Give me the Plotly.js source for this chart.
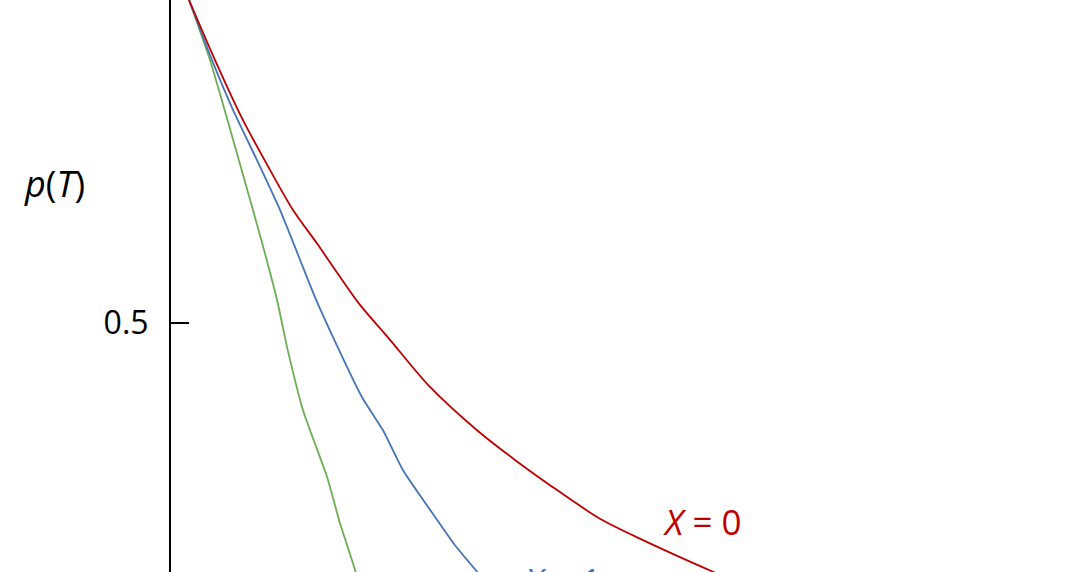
<!DOCTYPE html>
<html>
<head>
<meta charset="utf-8">
<script src="https://cdn.plot.ly/plotly-3.0.1.min.js"></script>
<style>html,body{margin:0;padding:0;background:#fff;}#chart{width:1090px;height:572px;}</style>
</head>
<body>
<div id="chart"></div>
<script>
// T values and p(T) for each X series
var tRed   = [0.18, 0.44, 0.72, 0.99, 1.22, 1.47, 1.71, 1.89, 2.19, 2.59, 3.06, 3.44, 3.79, 4.29, 4.72, 5.42, 6.09];
var pRed   = [1.0, 0.907, 0.814, 0.737, 0.675, 0.621, 0.567, 0.528, 0.474, 0.401, 0.334, 0.288, 0.249, 0.197, 0.164, 0.115, 0.071];
var tBlue  = [0.18, 0.41, 0.62, 0.86, 1.09, 1.29, 1.44, 1.62, 1.91, 2.12, 2.32, 2.59, 2.84, 3.06, 3.29];
var pBlue  = [1.0, 0.907, 0.830, 0.752, 0.675, 0.598, 0.540, 0.478, 0.385, 0.334, 0.272, 0.211, 0.156, 0.115, 0.071];
var tGreen = [0.18, 0.39, 0.56, 0.73, 0.89, 1.06, 1.16, 1.32, 1.56, 1.69, 1.84, 1.89];
var pGreen = [1.0, 0.907, 0.817, 0.724, 0.636, 0.536, 0.463, 0.365, 0.262, 0.190, 0.118, 0.087];
var seriesLabels = ['<i>X</i> = 0', '<i>X</i> = 1'];
var yTickVals = [0.5];
var yTickText = ['0.5'];

var traces = [
  {x: tGreen, y: pGreen, mode: 'lines', line: {color: '#6BAE55', width: 1.8, shape: 'spline', smoothing: 0.5}, hoverinfo: 'skip'},
  {x: tBlue,  y: pBlue,  mode: 'lines', line: {color: '#4674B8', width: 1.8, shape: 'spline', smoothing: 0.5}, hoverinfo: 'skip'},
  {x: tRed,   y: pRed,   mode: 'lines', line: {color: '#C00000', width: 1.8, shape: 'spline', smoothing: 0.8}, hoverinfo: 'skip'}
];

var layout = {
  width: 1090, height: 572,
  margin: {l: 171, r: 0, t: 0, b: 0},
  paper_bgcolor: '#fff', plot_bgcolor: '#fff',
  showlegend: false,
  font: {family: 'Open Sans, sans-serif', color: '#000'},
  xaxis: {range: [0, 9.19], visible: false, fixedrange: true},
  yaxis: {
    range: [0.1146, 1.0], showgrid: false, zeroline: false,
    showline: true, linecolor: '#000', linewidth: 2,
    ticks: 'inside', ticklen: 18, tickwidth: 1.5, tickcolor: '#000',
    tickvals: yTickVals, ticktext: yTickText, ticklabelstandoff: 14,
    tickfont: {size: 32, family: 'Open Sans, sans-serif', color: '#000'},
    fixedrange: true
  },
  annotations: [
    {xref: 'paper', yref: 'paper', x: (22 - 171) / 919, y: 1 - 183 / 572, xanchor: 'left', yanchor: 'middle',
     text: '<i>p</i>(<i>T</i>)', showarrow: false, font: {size: 36, color: '#000'}},
    {xref: 'x', yref: 'y', x: 4.90, y: 0.5 + (323 - 521) / 646, xanchor: 'left', yanchor: 'middle',
     text: seriesLabels[0], showarrow: false, font: {size: 35, color: '#C00000'}},
    {xref: 'x', yref: 'y', x: 3.50, y: 0.5 + (323 - 555) / 646, xanchor: 'left', yanchor: 'top',
     text: seriesLabels[1], showarrow: false, font: {size: 35, color: '#4674B8'}}
  ]
};

Plotly.newPlot('chart', traces, layout, {displayModeBar: false, staticPlot: true});
</script>
</body>
</html>
